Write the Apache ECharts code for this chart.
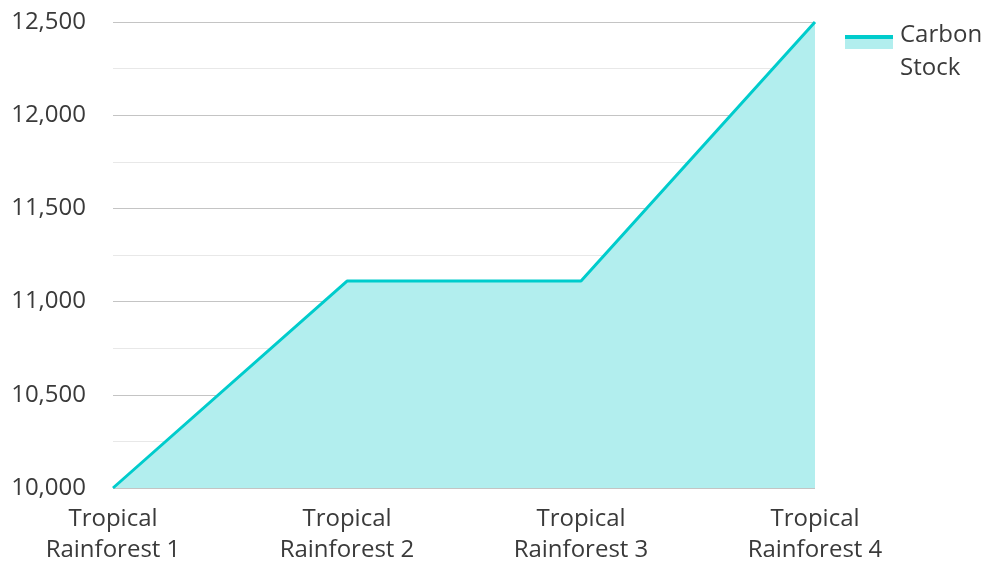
<!DOCTYPE html>
<html>
<head>
<meta charset="utf-8">
<script src="https://cdn.jsdelivr.net/npm/echarts@6/dist/echarts.min.js"></script>
<style>
  html, body { margin: 0; padding: 0; background: #fff; }
  #chart { width: 986px; height: 563px; }
</style>
</head>
<body>
<div id="chart"></div>
<script>
// Carbon stock per tropical rainforest site
const categories = ['Tropical\nRainforest 1', 'Tropical\nRainforest 2', 'Tropical\nRainforest 3', 'Tropical\nRainforest 4'];
const carbonStock = [10000, 11110, 11110, 12500];
const seriesName = 'Carbon\nStock';

const lineColor = '#00cccc';
const fillColor = '#b2eeee';
const textColor = '#3a3a3a';
const font = '"Open Sans", "Noto Sans", sans-serif';

const chart = echarts.init(document.getElementById('chart'));
chart.setOption({
  animation: false,
  textStyle: { fontFamily: font },
  grid: { left: 113, right: 171, top: 22, bottom: 75, containLabel: false, outerBoundsMode: 'none' },
  legend: {
    left: 840,
    top: 14,
    icon: 'rect',
    itemWidth: 48,
    itemHeight: 66,
    textStyle: { fontSize: 24, color: textColor, lineHeight: 33, fontFamily: font, padding: [0, 0, 0, 2] },
    data: [{
      name: seriesName,
      itemStyle: {
        color: {
          type: 'linear', x: 0, y: 0, x2: 0, y2: 1,
          colorStops: [
            { offset: 0, color: 'rgba(255,255,255,0)' },
            { offset: 0.25, color: 'rgba(255,255,255,0)' },
            { offset: 0.25, color: lineColor },
            { offset: 0.30, color: lineColor },
            { offset: 0.30, color: fillColor },
            { offset: 0.46, color: fillColor },
            { offset: 0.46, color: 'rgba(255,255,255,0)' },
            { offset: 1, color: 'rgba(255,255,255,0)' }
          ]
        }
      }
    }]
  },
  xAxis: {
    type: 'category',
    data: categories,
    boundaryGap: false,
    axisLine: { show: false },
    axisTick: { show: false },
    axisLabel: { fontSize: 24, color: textColor, lineHeight: 31, margin: 16, fontFamily: font }
  },
  yAxis: {
    type: 'value',
    min: 10000,
    max: 12500,
    interval: 500,
    axisLine: { show: false },
    axisTick: { show: false },
    axisLabel: {
      fontSize: 24, color: textColor, margin: 27, fontFamily: font,
      formatter: v => v.toLocaleString('en-US')
    },
    splitLine: { lineStyle: { color: '#c4c4c4', width: 1 } },
    minorTick: { show: false, splitNumber: 2 },
    minorSplitLine: { show: true, lineStyle: { color: '#e8e8e8', width: 1 } }
  },
  series: [{
    name: seriesName,
    type: 'line',
    data: carbonStock,
    symbol: 'none',
    lineStyle: { color: lineColor, width: 3 },
    itemStyle: { color: lineColor },
    areaStyle: { color: fillColor, opacity: 1 }
  }]
});
</script>
</body>
</html>
